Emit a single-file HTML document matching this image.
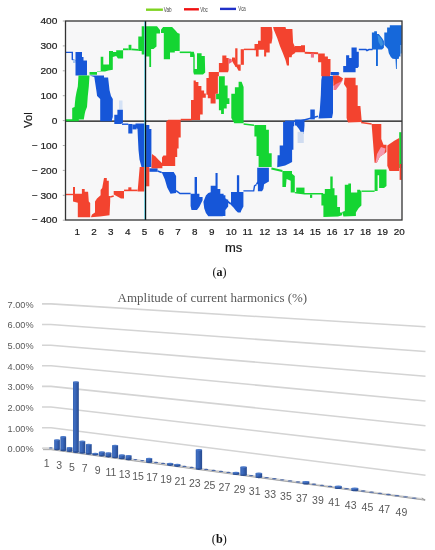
<!DOCTYPE html>
<html><head><meta charset="utf-8"><title>Figure</title>
<style>
html,body{margin:0;padding:0;background:#fff;}
body{width:435px;height:550px;overflow:hidden;}
svg{display:block;font-family:"Liberation Sans",Arial,sans-serif;}
</style></head><body>
<svg width="435" height="550" viewBox="0 0 435 550">
<rect width="435" height="550" fill="#fff"/>
<rect x="65.5" y="21" width="336.5" height="199" fill="#f7f7f8"/>
<line x1="65.5" y1="121.15" x2="402" y2="121.15" stroke="#0d0d0d" stroke-width="1.25"/>
<polyline points="65.5,52.4 72.3,52.4 72.3,59.3 75.5,61.0" fill="none" stroke="#1656d8" stroke-width="1.4" stroke-linejoin="miter"/>
<rect x="73.0" y="59.5" width="2.5" height="3.5" fill="#a8c8f0"/>
<polygon points="75.5,52.0 82.0,52.0 82.0,57.0 83.5,57.0 83.5,60.5 87.0,60.5 87.0,75.5 75.5,75.5" fill="#1656d8"/>
<polygon points="89.5,75.5 104.0,75.5 104.0,77.6 108.1,77.6 108.5,81.0 109.5,90.0 111.0,96.0 112.8,99.0 112.8,117.1 112.0,119.5 112.0,121.3 100.2,121.3 100.2,99.0 97.1,96.0 96.4,90.7 94.3,77.0" fill="#1656d8"/>
<rect x="119.0" y="100.5" width="3.5" height="9.2" fill="#d4e2f6"/>
<polygon points="117.4,109.7 122.9,109.7 122.9,123.0 121.0,124.1 114.3,124.1 114.3,114.8 117.4,114.8" fill="#1656d8"/>
<polyline points="122.0,124.2 128.3,124.2" fill="none" stroke="#1656d8" stroke-width="1.4" stroke-linejoin="miter"/>
<rect x="128.3" y="124.0" width="4.1" height="9.5" fill="#1656d8"/>
<rect x="132.4" y="124.5" width="4.2" height="4.9" fill="#1656d8"/>
<polygon points="135.5,123.5 144.5,123.5 144.5,167.0 141.5,167.0 139.5,159.4 138.5,150.0 138.0,140.0 137.5,129.0 135.5,127.0" fill="#1656d8"/>
<polygon points="146.1,125.0 149.3,125.0 149.3,129.0 151.4,129.0 151.4,167.0 146.1,167.0" fill="#1656d8"/>
<polygon points="149.3,168.3 157.6,168.3 157.6,171.8 149.3,171.8" fill="#1656d8"/>
<polyline points="157.6,171.0 161.7,172.5" fill="none" stroke="#1656d8" stroke-width="1.4" stroke-linejoin="miter"/>
<polygon points="161.6,172.0 173.7,172.0 176.1,176.1 176.1,193.0 170.5,193.8 167.2,187.4 164.8,179.3" fill="#1656d8"/>
<polyline points="176.1,190.6 180.0,193.5 190.6,193.5" fill="none" stroke="#1656d8" stroke-width="1.4" stroke-linejoin="miter"/>
<polygon points="190.6,193.8 194.6,193.8 194.6,176.9 197.0,176.9 197.0,193.8 199.4,193.8 199.4,197.0 202.6,197.0 202.6,200.2 199.4,206.7 197.0,209.9 191.5,209.9 190.6,206.0" fill="#1656d8"/>
<polygon points="203.4,201.8 205.9,195.4 208.3,193.0 210.7,192.2 210.7,185.7 215.5,185.7 215.5,172.9 217.6,172.9 217.6,189.0 220.3,189.0 220.3,193.8 223.6,193.8 223.6,198.6 226.0,198.6 227.6,201.0 226.8,206.7 223.6,211.5 222.8,216.3 208.3,216.3 205.9,213.1 204.2,208.3" fill="#1656d8"/>
<polygon points="222.0,195.3 225.4,195.3 225.4,199.5 228.2,199.5 228.2,206.4 225.4,210.0 225.4,216.0 222.0,216.0" fill="#1656d8"/>
<polyline points="227.6,201.5 231.0,204.0" fill="none" stroke="#1656d8" stroke-width="1.6" stroke-linejoin="miter"/>
<polygon points="231.0,191.9 236.9,191.9 236.9,175.3 239.2,175.3 239.2,191.9 243.4,191.9 243.4,206.4 241.3,210.5 240.6,212.6 237.9,212.6 235.8,210.5 233.7,207.8 231.0,205.0" fill="#1656d8"/>
<polyline points="243.4,190.9 253.7,190.9 254.5,186.0 256.5,184.5" fill="none" stroke="#1656d8" stroke-width="1.4" stroke-linejoin="miter"/>
<polygon points="257.2,167.8 268.9,167.8 268.9,181.6 264.1,184.3 263.4,189.0 262.0,191.2 257.9,191.2 257.9,184.3 255.8,184.3 257.2,181.6" fill="#1656d8"/>
<polygon points="283.1,122.1 294.1,122.1 294.1,126.3 293.4,126.3 293.4,149.7 292.1,149.7 292.1,162.1 289.3,163.5 285.2,165.6 277.2,167.2 277.6,155.2 279.7,155.2 279.7,145.6 283.1,145.6" fill="#1656d8"/>
<polyline points="285.0,121.3 297.0,121.3" fill="none" stroke="#1656d8" stroke-width="1.4" stroke-linejoin="miter"/>
<polygon points="294.8,119.4 304.5,119.4 304.5,125.6 303.8,133.9 301.7,133.9 299.0,129.0 296.2,125.6 294.8,125.6" fill="#1656d8"/>
<rect x="297.6" y="131.8" width="6.2" height="11.2" fill="#d0dcf0"/>
<polyline points="295.0,122.2 306.0,119.5 318.0,116.3" fill="none" stroke="#1656d8" stroke-width="1.5" stroke-linejoin="miter"/>
<rect x="310.3" y="109.5" width="4.5" height="9.9" fill="#1656d8"/>
<polygon points="322.0,76.0 333.0,76.0 333.0,113.0 332.0,118.0 318.5,118.5 319.8,110.0 320.8,95.0 321.3,80.0" fill="#1656d8"/>
<rect x="330.5" y="72.0" width="8.3" height="3.2" fill="#1656d8"/>
<polyline points="338.5,73.6 339.2,73.6" fill="none" stroke="#1656d8" stroke-width="1.5" stroke-linejoin="miter"/>
<polygon points="343.2,66.0 346.1,66.0 346.1,55.3 349.2,55.3 349.2,58.0 351.5,58.0 351.5,47.6 356.7,47.6 356.7,51.7 358.8,51.7 358.8,66.5 357.7,68.0 355.6,68.0 355.6,72.2 343.2,72.2" fill="#1656d8"/>
<polyline points="358.8,49.6 366.0,49.6 367.0,50.5 369.0,49.6 372.6,49.6" fill="none" stroke="#1656d8" stroke-width="1.5" stroke-linejoin="miter"/>
<polygon points="371.9,32.6 374.2,32.6 374.2,31.2 376.9,31.2 377.0,34.0 378.8,34.0 382.0,38.0 383.9,41.0 383.9,47.7 382.0,49.6 377.9,49.6 377.9,66.1 376.0,66.1 376.0,49.6 371.9,49.6" fill="#1668da"/>
<polygon points="377.5,35.0 379.5,36.5 382.2,40.0 383.2,44.5 381.0,46.5 378.5,42.0" fill="#3c92e0"/>
<polygon points="384.3,32.6 387.1,32.6 387.1,27.5 389.8,27.5 389.8,25.2 401.8,25.2 401.8,53.3 400.4,53.3 400.4,56.5 399.0,56.5 398.9,58.8 397.0,59.0 396.8,68.9 396.0,68.9 395.5,59.0 392.6,58.8 390.8,56.9 388.8,53.3 388.0,49.0 384.3,45.0" fill="#1668da"/>
<rect x="400.2" y="45.0" width="1.4" height="8.5" fill="#7ab0ec"/>
<polygon points="78.5,75.5 89.5,75.5 88.8,86.6 87.8,96.0 87.0,107.0 85.4,111.0 84.7,114.0 83.9,118.7 83.9,119.5 78.8,119.5 78.8,121.3 65.5,121.3 65.5,119.3 72.2,119.3 72.2,108.0 74.6,107.0 74.9,103.0 75.5,97.6 76.5,92.0 77.8,86.6" fill="#14d532"/>
<polygon points="100.7,56.7 103.3,56.7 103.3,64.4 109.0,64.4 109.0,51.0 113.0,51.0 113.0,52.0 116.2,52.0 116.2,50.3 123.1,50.3 123.1,58.6 118.0,58.6 116.2,56.0 112.8,57.0 112.8,69.7 108.4,70.5 105.0,71.4 97.0,71.5 97.0,74.8 89.5,74.8 89.5,72.0 100.7,72.0" fill="#14d532"/>
<polyline points="123.0,49.3 128.6,49.3" fill="none" stroke="#14d532" stroke-width="1.8" stroke-linejoin="miter"/>
<rect x="128.6" y="44.8" width="2.8" height="5.4" fill="#14d532"/>
<polyline points="131.4,49.3 138.3,49.8" fill="none" stroke="#14d532" stroke-width="1.8" stroke-linejoin="miter"/>
<polygon points="138.3,36.6 141.7,36.6 141.7,26.2 144.5,26.2 144.5,54.5 141.7,54.5 141.7,51.0 138.3,51.0" fill="#14d532"/>
<polygon points="146.1,26.2 157.0,26.2 160.0,30.0 160.0,33.5 156.5,33.5 156.5,46.5 153.5,49.0 151.1,49.0 151.1,66.9 149.3,66.9 149.3,56.6 146.1,56.6" fill="#14d532"/>
<polygon points="161.0,29.7 163.1,26.9 172.1,26.9 175.0,30.0 177.6,33.1 179.7,33.8 179.7,51.0 174.8,51.0 174.8,52.4 170.0,52.4 170.0,59.3 163.8,59.3 163.8,33.0 161.0,33.0" fill="#14d532"/>
<polyline points="179.7,52.3 190.7,52.3" fill="none" stroke="#14d532" stroke-width="1.6" stroke-linejoin="miter"/>
<polygon points="190.1,51.8 193.8,51.8 194.7,55.0 194.7,69.0 197.0,69.0 197.0,53.3 201.6,53.3 201.6,56.0 204.8,56.0 205.2,72.6 203.0,74.4 194.0,74.4 193.3,72.0 193.3,57.0 190.1,57.0" fill="#14d532"/>
<polygon points="218.9,76.3 224.8,76.3 224.8,85.5 227.6,85.5 227.6,98.3 229.4,98.3 229.4,103.9 226.7,103.9 226.7,108.5 223.9,108.5 223.9,114.0 221.1,114.0 221.1,110.3 218.9,110.3 218.9,99.3 216.1,99.3 216.1,93.7 218.9,93.7" fill="#14d532"/>
<polygon points="231.3,93.7 234.9,93.7 234.9,87.3 238.6,87.3 238.6,81.8 241.6,81.8 243.6,87.0 243.6,123.2 234.3,123.2 231.3,118.0" fill="#14d532"/>
<polyline points="243.6,124.0 254.0,125.2" fill="none" stroke="#14d532" stroke-width="1.5" stroke-linejoin="miter"/>
<polygon points="254.4,124.9 266.1,124.9 266.1,129.7 268.9,129.7 268.9,153.2 271.7,153.2 271.7,167.0 258.6,167.0 258.6,155.9 256.5,155.9 256.5,136.6 254.4,136.6" fill="#14d532"/>
<polyline points="271.4,168.5 282.4,171.0" fill="none" stroke="#14d532" stroke-width="1.8" stroke-linejoin="miter"/>
<polygon points="282.4,171.0 292.0,171.0 292.0,173.8 294.8,176.0 294.8,192.4 290.7,192.4 290.7,180.7 286.6,179.0 285.9,186.9 282.4,186.9" fill="#14d532"/>
<rect x="296.2" y="187.6" width="8.3" height="5.5" fill="#14d532"/>
<polyline points="294.8,192.6 304.5,193.8 323.1,193.8" fill="none" stroke="#14d532" stroke-width="1.4" stroke-linejoin="miter"/>
<rect x="310.0" y="194.5" width="2.2" height="3.4" fill="#14d532"/>
<polygon points="321.4,193.8 324.8,193.8 324.8,189.0 330.3,189.0 330.3,176.6 332.7,176.6 332.7,188.3 334.5,188.3 334.5,195.2 337.2,195.2 337.2,206.9 340.0,206.9 340.0,212.4 342.1,212.4 342.1,215.2 338.0,216.6 323.4,216.9 323.4,205.5 321.4,205.5" fill="#14d532"/>
<polygon points="344.8,184.8 348.3,184.8 348.3,183.4 351.0,183.4 351.0,192.4 357.2,192.4 357.2,189.7 360.0,189.7 361.4,192.0 361.4,205.5 358.6,208.3 355.9,212.4 355.9,215.9 343.5,216.6 342.1,212.0 344.8,211.0" fill="#14d532"/>
<polyline points="361.4,191.2 374.6,191.2" fill="none" stroke="#14d532" stroke-width="1.4" stroke-linejoin="miter"/>
<polygon points="374.6,169.4 386.5,169.4 386.5,186.0 384.0,188.0 379.1,188.0 379.1,175.3 377.6,175.3 377.6,191.0 374.6,191.0" fill="#14d532"/>
<rect x="399.2" y="132.2" width="2.2" height="35.8" fill="#14d532"/>
<polyline points="66.0,194.5 73.0,194.5" fill="none" stroke="#f3432f" stroke-width="1.4" stroke-linejoin="miter"/>
<polygon points="73.0,193.8 73.0,186.9 75.0,186.9 75.0,193.8 81.9,193.8 81.9,189.0 84.7,189.0 84.7,191.7 88.1,191.7 88.8,201.4 90.2,203.0 90.2,217.2 77.8,217.2 77.8,202.8 73.0,201.4" fill="#f3432f"/>
<polygon points="90.9,217.2 92.0,214.5 95.0,212.5 95.0,201.4 97.0,198.6 100.6,195.2 100.6,190.0 102.2,188.0 104.0,177.9 106.8,177.9 106.8,180.7 108.8,180.7 108.8,195.9 110.2,195.9 110.2,201.4 109.5,215.2 100.0,216.5" fill="#f3432f"/>
<polyline points="110.2,197.0 113.7,196.0" fill="none" stroke="#f3432f" stroke-width="1.6" stroke-linejoin="miter"/>
<polygon points="113.7,191.0 124.0,191.0 124.0,198.6 121.0,198.6 113.7,194.5" fill="#f3432f"/>
<polyline points="124.0,190.4 137.6,190.4" fill="none" stroke="#f3432f" stroke-width="1.6" stroke-linejoin="miter"/>
<rect x="128.3" y="187.3" width="3.1" height="3.1" fill="#f3432f"/>
<polygon points="139.7,167.0 144.5,167.0 144.5,191.5 137.6,191.5 138.6,180.0" fill="#f3432f"/>
<polygon points="146.1,167.0 149.3,167.0 149.3,186.3 146.1,186.3" fill="#f3432f"/>
<polygon points="152.0,153.9 155.5,156.6 158.3,159.4 162.4,163.5 162.4,168.3 151.4,168.3" fill="#f3432f"/>
<polygon points="168.3,119.7 180.7,119.7 180.7,137.6 178.6,137.6 178.6,148.6 177.2,148.6 177.2,156.9 175.2,156.9 175.2,165.9 162.0,165.9 162.0,157.6 163.4,155.5 166.2,155.5 166.2,121.7" fill="#f3432f"/>
<polyline points="180.7,119.6 191.7,119.6" fill="none" stroke="#f3432f" stroke-width="1.6" stroke-linejoin="miter"/>
<polygon points="193.6,80.4 195.8,80.4 195.8,82.1 198.4,82.1 198.4,86.0 201.4,86.0 201.4,90.4 204.1,90.4 204.1,93.4 205.8,93.4 205.8,97.8 202.7,97.8 202.7,114.4 200.1,114.4 200.1,120.0 191.0,120.0 191.0,100.0 193.6,100.0" fill="#f3432f"/>
<polygon points="208.7,72.1 218.9,72.1 218.9,76.3 217.9,76.3 217.9,93.7 215.6,93.7 215.6,103.4 210.6,103.4 210.6,98.3 207.8,98.3 207.8,94.7 206.4,94.7 206.4,78.1 208.7,78.1" fill="#f3432f"/>
<polygon points="218.9,63.0 222.3,63.0 222.3,55.6 226.4,55.6 226.4,57.9 228.7,57.9 228.7,70.0 228.0,72.2 218.9,72.2" fill="#f3432f"/>
<polygon points="228.7,58.5 231.5,59.0 232.0,62.0 228.7,64.0" fill="#f26078"/>
<polygon points="232.0,57.5 234.7,57.5 237.0,63.0 237.0,66.7 235.5,66.7 232.0,61.0" fill="#f3432f"/>
<rect x="235.2" y="48.3" width="2.3" height="18.4" fill="#f3432f"/>
<polygon points="236.5,64.5 240.7,64.5 240.7,70.8 238.5,70.8 236.5,67.0" fill="#f3432f"/>
<rect x="240.7" y="49.2" width="3.2" height="15.6" fill="#f3432f"/>
<polyline points="243.9,49.4 255.0,49.4" fill="none" stroke="#f3432f" stroke-width="1.5" stroke-linejoin="miter"/>
<polygon points="254.5,44.1 258.0,44.1 258.0,40.7 260.7,40.7 260.7,26.9 271.7,26.9 272.4,32.0 272.4,38.0 271.5,43.4 269.7,43.4 269.7,52.4 266.2,52.4 266.2,56.6 264.1,56.6 264.1,49.7 258.6,49.7 258.6,56.6 255.9,56.6 255.9,50.3 254.5,50.3" fill="#f3432f"/>
<polygon points="273.1,26.9 285.5,26.9 286.0,29.0 292.4,29.0 293.1,42.8 295.2,47.6 295.2,53.0 292.0,55.0 291.7,57.2 289.0,57.2 289.0,65.5 286.9,65.5 285.5,60.0 282.8,53.1 280.0,46.2 277.2,37.9 273.8,29.7" fill="#f3432f"/>
<polygon points="295.0,46.1 301.0,46.1 301.0,45.3 305.0,45.3 305.0,52.2 295.0,52.2" fill="#f3432f"/>
<polyline points="304.7,52.8 318.1,53.2" fill="none" stroke="#f3432f" stroke-width="2.1" stroke-linejoin="miter"/>
<rect x="310.9" y="53.5" width="3.1" height="4.1" fill="#f0708a"/>
<polygon points="318.1,53.4 324.8,53.4 324.8,56.6 327.9,56.6 327.9,59.1 330.5,59.1 330.5,71.0 330.0,76.2 321.2,76.2 321.2,62.2 318.1,62.2" fill="#f3432f"/>
<polygon points="333.5,84.0 337.0,82.0 341.0,80.0 343.2,79.5 340.4,84.0 336.0,90.1 333.5,90.1" fill="#f3788f"/>
<polygon points="332.8,75.5 338.3,75.5 343.2,78.5 341.0,81.5 336.0,84.0 333.5,86.0" fill="#f3432f"/>
<polygon points="344.6,77.7 355.6,77.7 355.6,85.3 357.7,85.3 357.7,106.0 360.4,106.0 361.8,122.0 348.0,122.6 346.6,118.0 346.6,88.0 343.9,84.0" fill="#f3432f"/>
<polyline points="361.2,122.6 371.6,124.0" fill="none" stroke="#f3432f" stroke-width="1.5" stroke-linejoin="miter"/>
<polygon points="371.6,124.0 381.3,124.0 381.3,138.9 383.5,144.8 386.5,144.8 386.5,152.0 384.3,153.8 379.8,156.8 376.8,162.7 374.6,162.7 373.1,143.3" fill="#f3432f"/>
<polygon points="381.0,147.0 385.5,148.5 384.3,153.8 379.8,156.8 376.8,162.7 375.5,162.7 377.0,154.0" fill="#f59ab0"/>
<polygon points="387.3,145.6 394.7,140.4 399.2,138.1 399.2,170.9 389.5,170.9 387.3,165.7" fill="#f3432f"/>
<rect x="399.6" y="164.0" width="2.0" height="15.9" fill="#f3432f"/>
<line x1="144.6" y1="21" x2="144.6" y2="220" stroke="#3fd8f0" stroke-width="0.8" opacity="0.8"/>
<line x1="145.55" y1="21" x2="145.55" y2="220" stroke="#061418" stroke-width="1.3"/>
<rect x="65.5" y="21" width="336.5" height="199" fill="none" stroke="#333" stroke-width="1.3"/>
<line x1="62.8" y1="21.0" x2="65" y2="21.0" stroke="#aaa" stroke-width="1"/>
<text transform="translate(57.4,24.00) scale(1.07,1)" text-anchor="end" font-size="9.5" fill="#1a1a1a" stroke="#1a1a1a" stroke-width="0.2">400</text>
<line x1="62.8" y1="45.9" x2="65" y2="45.9" stroke="#aaa" stroke-width="1"/>
<text transform="translate(57.4,48.93) scale(1.07,1)" text-anchor="end" font-size="9.5" fill="#1a1a1a" stroke="#1a1a1a" stroke-width="0.2">300</text>
<line x1="62.8" y1="70.8" x2="65" y2="70.8" stroke="#aaa" stroke-width="1"/>
<text transform="translate(57.4,73.86) scale(1.07,1)" text-anchor="end" font-size="9.5" fill="#1a1a1a" stroke="#1a1a1a" stroke-width="0.2">200</text>
<line x1="62.8" y1="95.7" x2="65" y2="95.7" stroke="#aaa" stroke-width="1"/>
<text transform="translate(57.4,98.79) scale(1.07,1)" text-anchor="end" font-size="9.5" fill="#1a1a1a" stroke="#1a1a1a" stroke-width="0.2">100</text>
<line x1="62.8" y1="120.6" x2="65" y2="120.6" stroke="#aaa" stroke-width="1"/>
<text transform="translate(57.4,123.72) scale(1.07,1)" text-anchor="end" font-size="9.5" fill="#1a1a1a" stroke="#1a1a1a" stroke-width="0.2">0</text>
<line x1="62.8" y1="145.5" x2="65" y2="145.5" stroke="#aaa" stroke-width="1"/>
<text transform="translate(57.4,148.65) scale(1.07,1)" text-anchor="end" font-size="9.5" fill="#1a1a1a" stroke="#1a1a1a" stroke-width="0.2">− 100</text>
<line x1="62.8" y1="170.4" x2="65" y2="170.4" stroke="#aaa" stroke-width="1"/>
<text transform="translate(57.4,173.58) scale(1.07,1)" text-anchor="end" font-size="9.5" fill="#1a1a1a" stroke="#1a1a1a" stroke-width="0.2">− 200</text>
<line x1="62.8" y1="195.3" x2="65" y2="195.3" stroke="#aaa" stroke-width="1"/>
<text transform="translate(57.4,198.51) scale(1.07,1)" text-anchor="end" font-size="9.5" fill="#1a1a1a" stroke="#1a1a1a" stroke-width="0.2">− 300</text>
<line x1="62.8" y1="220.2" x2="65" y2="220.2" stroke="#aaa" stroke-width="1"/>
<text transform="translate(57.4,223.44) scale(1.07,1)" text-anchor="end" font-size="9.5" fill="#1a1a1a" stroke="#1a1a1a" stroke-width="0.2">− 400</text>
<text x="74.50" y="234.8" font-size="9.9" fill="#1a1a1a" stroke="#1a1a1a" stroke-width="0.2">1</text>
<text x="91.30" y="234.8" font-size="9.9" fill="#1a1a1a" stroke="#1a1a1a" stroke-width="0.2">2</text>
<text x="108.10" y="234.8" font-size="9.9" fill="#1a1a1a" stroke="#1a1a1a" stroke-width="0.2">3</text>
<text x="124.90" y="234.8" font-size="9.9" fill="#1a1a1a" stroke="#1a1a1a" stroke-width="0.2">4</text>
<text x="141.70" y="234.8" font-size="9.9" fill="#1a1a1a" stroke="#1a1a1a" stroke-width="0.2">5</text>
<text x="158.50" y="234.8" font-size="9.9" fill="#1a1a1a" stroke="#1a1a1a" stroke-width="0.2">6</text>
<text x="175.30" y="234.8" font-size="9.9" fill="#1a1a1a" stroke="#1a1a1a" stroke-width="0.2">7</text>
<text x="192.10" y="234.8" font-size="9.9" fill="#1a1a1a" stroke="#1a1a1a" stroke-width="0.2">8</text>
<text x="208.90" y="234.8" font-size="9.9" fill="#1a1a1a" stroke="#1a1a1a" stroke-width="0.2">9</text>
<text x="225.70" y="234.8" font-size="9.9" fill="#1a1a1a" stroke="#1a1a1a" stroke-width="0.2">10</text>
<text x="242.50" y="234.8" font-size="9.9" fill="#1a1a1a" stroke="#1a1a1a" stroke-width="0.2">11</text>
<text x="259.30" y="234.8" font-size="9.9" fill="#1a1a1a" stroke="#1a1a1a" stroke-width="0.2">12</text>
<text x="276.10" y="234.8" font-size="9.9" fill="#1a1a1a" stroke="#1a1a1a" stroke-width="0.2">13</text>
<text x="292.90" y="234.8" font-size="9.9" fill="#1a1a1a" stroke="#1a1a1a" stroke-width="0.2">14</text>
<text x="309.70" y="234.8" font-size="9.9" fill="#1a1a1a" stroke="#1a1a1a" stroke-width="0.2">15</text>
<text x="326.50" y="234.8" font-size="9.9" fill="#1a1a1a" stroke="#1a1a1a" stroke-width="0.2">16</text>
<text x="343.30" y="234.8" font-size="9.9" fill="#1a1a1a" stroke="#1a1a1a" stroke-width="0.2">17</text>
<text x="360.10" y="234.8" font-size="9.9" fill="#1a1a1a" stroke="#1a1a1a" stroke-width="0.2">18</text>
<text x="376.90" y="234.8" font-size="9.9" fill="#1a1a1a" stroke="#1a1a1a" stroke-width="0.2">19</text>
<text x="393.70" y="234.8" font-size="9.9" fill="#1a1a1a" stroke="#1a1a1a" stroke-width="0.2">20</text>
<text x="233.7" y="251.5" text-anchor="middle" font-size="13" fill="#1a1a1a" stroke="#1a1a1a" stroke-width="0.2">ms</text>
<text transform="translate(32.3,120.1) rotate(-90)" text-anchor="middle" font-size="11.2" fill="#1a1a1a" stroke="#1a1a1a" stroke-width="0.2">Vol</text>
<line x1="146" y1="9.7" x2="162.9" y2="9.7" stroke="#7ed321" stroke-width="2.4"/>
<text x="163.7" y="11.8" font-size="6.6" textLength="7.9" lengthAdjust="spacingAndGlyphs" fill="#444">Vab</text>
<line x1="184" y1="9.3" x2="198.9" y2="9.3" stroke="#f01010" stroke-width="2.4"/>
<text x="200.2" y="11.6" font-size="6.6" textLength="7.6" lengthAdjust="spacingAndGlyphs" fill="#444">Vbc</text>
<line x1="220" y1="8.9" x2="236" y2="8.9" stroke="#2030c8" stroke-width="2.4"/>
<text x="238.2" y="11.3" font-size="6.6" textLength="7.6" lengthAdjust="spacingAndGlyphs" fill="#444">Vca</text>
<text x="219.4" y="276.2" text-anchor="middle" font-family="Liberation Serif" font-size="12" fill="#111"><tspan>(</tspan><tspan font-weight="bold">a</tspan><tspan>)</tspan></text>
<polyline points="42,448.3 51,448.3 425.5,499.9" fill="none" stroke="#d4d4d4" stroke-width="1.6"/>
<text x="33.6" y="452.2" text-anchor="end" font-size="9.6" textLength="26" lengthAdjust="spacingAndGlyphs" fill="#595959">0.00%</text>
<polyline points="42,427.7 51,427.7 425.5,475.2" fill="none" stroke="#d4d4d4" stroke-width="1.6"/>
<text x="33.6" y="431.6" text-anchor="end" font-size="9.6" textLength="26" lengthAdjust="spacingAndGlyphs" fill="#595959">1.00%</text>
<polyline points="42,407.0 51,407.0 425.5,450.4" fill="none" stroke="#d4d4d4" stroke-width="1.6"/>
<text x="33.6" y="410.9" text-anchor="end" font-size="9.6" textLength="26" lengthAdjust="spacingAndGlyphs" fill="#595959">2.00%</text>
<polyline points="42,386.4 51,386.4 425.5,425.7" fill="none" stroke="#d4d4d4" stroke-width="1.6"/>
<text x="33.6" y="390.3" text-anchor="end" font-size="9.6" textLength="26" lengthAdjust="spacingAndGlyphs" fill="#595959">3.00%</text>
<polyline points="42,365.8 51,365.8 425.5,401.0" fill="none" stroke="#d4d4d4" stroke-width="1.6"/>
<text x="33.6" y="369.7" text-anchor="end" font-size="9.6" textLength="26" lengthAdjust="spacingAndGlyphs" fill="#595959">4.00%</text>
<polyline points="42,345.2 51,345.2 425.5,376.2" fill="none" stroke="#d4d4d4" stroke-width="1.6"/>
<text x="33.6" y="349.1" text-anchor="end" font-size="9.6" textLength="26" lengthAdjust="spacingAndGlyphs" fill="#595959">5.00%</text>
<polyline points="42,324.5 51,324.5 425.5,351.5" fill="none" stroke="#d4d4d4" stroke-width="1.6"/>
<text x="33.6" y="328.4" text-anchor="end" font-size="9.6" textLength="26" lengthAdjust="spacingAndGlyphs" fill="#595959">6.00%</text>
<polyline points="42,303.9 51,303.9 425.5,326.8" fill="none" stroke="#d4d4d4" stroke-width="1.6"/>
<text x="33.6" y="307.8" text-anchor="end" font-size="9.6" textLength="26" lengthAdjust="spacingAndGlyphs" fill="#595959">7.00%</text>
<polygon points="43,447.6 51,447.6 421.8,497.9 425,500.3 51,450 43,450" fill="#d8d8d8"/>
<polyline points="43,449.7 51,449.7 425,500.1" fill="none" stroke="#a4a4a4" stroke-width="0.9"/>
<line x1="421.8" y1="497.9" x2="425" y2="500.2" stroke="#8c8c8c" stroke-width="0.9"/>
<defs><linearGradient id="bg" x1="0" x2="1" y1="0" y2="0"><stop offset="0" stop-color="#3563b4"/><stop offset="0.3" stop-color="#3f6dc0"/><stop offset="0.6" stop-color="#335eae"/><stop offset="1" stop-color="#274a8e"/></linearGradient></defs>
<ellipse cx="50.80" cy="447.97" rx="1.85" ry="0.65" fill="#4d6aa8"/>
<rect x="54.14" y="439.80" width="5.73" height="9.73" fill="url(#bg)"/>
<ellipse cx="57.00" cy="449.53" rx="2.87" ry="0.8" fill="#2a4e92"/>
<ellipse cx="57.00" cy="440.00" rx="2.87" ry="0.8" fill="#4a78c8"/>
<rect x="60.37" y="436.70" width="5.76" height="13.69" fill="url(#bg)"/>
<ellipse cx="63.26" cy="450.39" rx="2.88" ry="0.8" fill="#2a4e92"/>
<ellipse cx="63.26" cy="436.90" rx="2.88" ry="0.8" fill="#4a78c8"/>
<rect x="66.66" y="447.60" width="5.79" height="3.66" fill="url(#bg)"/>
<ellipse cx="69.56" cy="451.26" rx="2.90" ry="0.8" fill="#2a4e92"/>
<ellipse cx="69.56" cy="447.80" rx="2.90" ry="0.8" fill="#4a78c8"/>
<rect x="73.00" y="381.80" width="5.82" height="70.33" fill="url(#bg)"/>
<ellipse cx="75.91" cy="452.13" rx="2.91" ry="0.8" fill="#2a4e92"/>
<ellipse cx="75.91" cy="382.00" rx="2.91" ry="0.8" fill="#4a78c8"/>
<rect x="79.39" y="441.10" width="5.85" height="11.91" fill="url(#bg)"/>
<ellipse cx="82.32" cy="453.01" rx="2.93" ry="0.8" fill="#2a4e92"/>
<ellipse cx="82.32" cy="441.30" rx="2.93" ry="0.8" fill="#4a78c8"/>
<rect x="85.83" y="444.30" width="5.88" height="9.60" fill="url(#bg)"/>
<ellipse cx="88.77" cy="453.90" rx="2.94" ry="0.8" fill="#2a4e92"/>
<ellipse cx="88.77" cy="444.50" rx="2.94" ry="0.8" fill="#4a78c8"/>
<rect x="92.32" y="453.30" width="5.91" height="1.50" fill="url(#bg)"/>
<ellipse cx="95.28" cy="454.80" rx="2.96" ry="0.8" fill="#2a4e92"/>
<ellipse cx="95.28" cy="453.50" rx="2.96" ry="0.8" fill="#4a78c8"/>
<rect x="98.86" y="451.90" width="5.94" height="3.80" fill="url(#bg)"/>
<ellipse cx="101.83" cy="455.70" rx="2.97" ry="0.8" fill="#2a4e92"/>
<ellipse cx="101.83" cy="452.10" rx="2.97" ry="0.8" fill="#4a78c8"/>
<rect x="105.45" y="452.80" width="5.98" height="3.81" fill="url(#bg)"/>
<ellipse cx="108.44" cy="456.61" rx="2.99" ry="0.8" fill="#2a4e92"/>
<ellipse cx="108.44" cy="453.00" rx="2.99" ry="0.8" fill="#4a78c8"/>
<rect x="112.09" y="445.30" width="6.01" height="12.23" fill="url(#bg)"/>
<ellipse cx="115.10" cy="457.53" rx="3.00" ry="0.8" fill="#2a4e92"/>
<ellipse cx="115.10" cy="445.50" rx="3.00" ry="0.8" fill="#4a78c8"/>
<rect x="118.79" y="454.90" width="6.04" height="3.56" fill="url(#bg)"/>
<ellipse cx="121.80" cy="458.46" rx="3.02" ry="0.8" fill="#2a4e92"/>
<ellipse cx="121.80" cy="455.10" rx="3.02" ry="0.8" fill="#4a78c8"/>
<rect x="125.53" y="455.60" width="6.07" height="3.79" fill="url(#bg)"/>
<ellipse cx="128.56" cy="459.39" rx="3.03" ry="0.8" fill="#2a4e92"/>
<ellipse cx="128.56" cy="455.80" rx="3.03" ry="0.8" fill="#4a78c8"/>
<ellipse cx="135.37" cy="459.62" rx="2.05" ry="0.65" fill="#4d6aa8"/>
<ellipse cx="142.23" cy="460.57" rx="2.06" ry="0.65" fill="#4d6aa8"/>
<rect x="146.06" y="458.30" width="6.16" height="3.92" fill="url(#bg)"/>
<ellipse cx="149.14" cy="462.22" rx="3.08" ry="0.8" fill="#2a4e92"/>
<ellipse cx="149.14" cy="458.50" rx="3.08" ry="0.8" fill="#4a78c8"/>
<ellipse cx="156.10" cy="462.48" rx="2.09" ry="0.65" fill="#4d6aa8"/>
<ellipse cx="163.11" cy="463.45" rx="2.11" ry="0.65" fill="#4d6aa8"/>
<rect x="167.05" y="463.40" width="6.25" height="1.72" fill="url(#bg)"/>
<ellipse cx="170.17" cy="465.12" rx="3.13" ry="0.8" fill="#2a4e92"/>
<ellipse cx="170.17" cy="463.60" rx="3.13" ry="0.8" fill="#4a78c8"/>
<rect x="174.14" y="464.30" width="6.28" height="1.80" fill="url(#bg)"/>
<ellipse cx="177.28" cy="466.10" rx="3.14" ry="0.8" fill="#2a4e92"/>
<ellipse cx="177.28" cy="464.50" rx="3.14" ry="0.8" fill="#4a78c8"/>
<ellipse cx="184.45" cy="466.39" rx="2.16" ry="0.65" fill="#4d6aa8"/>
<ellipse cx="191.66" cy="467.38" rx="2.17" ry="0.65" fill="#4d6aa8"/>
<rect x="195.74" y="449.70" width="6.37" height="19.38" fill="url(#bg)"/>
<ellipse cx="198.92" cy="469.08" rx="3.19" ry="0.8" fill="#2a4e92"/>
<ellipse cx="198.92" cy="449.90" rx="3.19" ry="0.8" fill="#4a78c8"/>
<ellipse cx="206.24" cy="469.39" rx="2.20" ry="0.65" fill="#4d6aa8"/>
<ellipse cx="213.60" cy="470.40" rx="2.22" ry="0.65" fill="#4d6aa8"/>
<ellipse cx="221.02" cy="471.43" rx="2.23" ry="0.65" fill="#4d6aa8"/>
<ellipse cx="228.48" cy="472.45" rx="2.25" ry="0.65" fill="#4d6aa8"/>
<rect x="232.73" y="472.40" width="6.53" height="1.79" fill="url(#bg)"/>
<ellipse cx="236.00" cy="474.19" rx="3.26" ry="0.8" fill="#2a4e92"/>
<ellipse cx="236.00" cy="472.60" rx="3.26" ry="0.8" fill="#4a78c8"/>
<rect x="240.28" y="466.90" width="6.56" height="8.33" fill="url(#bg)"/>
<ellipse cx="243.56" cy="475.23" rx="3.28" ry="0.8" fill="#2a4e92"/>
<ellipse cx="243.56" cy="467.10" rx="3.28" ry="0.8" fill="#4a78c8"/>
<ellipse cx="251.18" cy="475.58" rx="2.29" ry="0.65" fill="#4d6aa8"/>
<rect x="255.54" y="473.20" width="6.62" height="4.14" fill="url(#bg)"/>
<ellipse cx="258.85" cy="477.34" rx="3.31" ry="0.8" fill="#2a4e92"/>
<ellipse cx="258.85" cy="473.40" rx="3.31" ry="0.8" fill="#4a78c8"/>
<ellipse cx="266.57" cy="477.70" rx="2.32" ry="0.65" fill="#4d6aa8"/>
<ellipse cx="274.33" cy="478.77" rx="2.34" ry="0.65" fill="#4d6aa8"/>
<ellipse cx="282.15" cy="479.85" rx="2.36" ry="0.65" fill="#4d6aa8"/>
<ellipse cx="290.02" cy="480.93" rx="2.37" ry="0.65" fill="#4d6aa8"/>
<ellipse cx="297.94" cy="482.02" rx="2.39" ry="0.65" fill="#4d6aa8"/>
<rect x="302.51" y="481.60" width="6.80" height="2.22" fill="url(#bg)"/>
<ellipse cx="305.91" cy="483.82" rx="3.40" ry="0.8" fill="#2a4e92"/>
<ellipse cx="305.91" cy="481.80" rx="3.40" ry="0.8" fill="#4a78c8"/>
<ellipse cx="313.93" cy="484.23" rx="2.42" ry="0.65" fill="#4d6aa8"/>
<ellipse cx="322.01" cy="485.34" rx="2.43" ry="0.65" fill="#4d6aa8"/>
<ellipse cx="330.13" cy="486.46" rx="2.45" ry="0.65" fill="#4d6aa8"/>
<rect x="334.84" y="486.20" width="6.92" height="2.09" fill="url(#bg)"/>
<ellipse cx="338.30" cy="488.29" rx="3.46" ry="0.8" fill="#2a4e92"/>
<ellipse cx="338.30" cy="486.40" rx="3.46" ry="0.8" fill="#4a78c8"/>
<ellipse cx="346.52" cy="488.72" rx="2.48" ry="0.65" fill="#4d6aa8"/>
<rect x="351.30" y="488.10" width="6.99" height="2.46" fill="url(#bg)"/>
<ellipse cx="354.80" cy="490.56" rx="3.49" ry="0.8" fill="#2a4e92"/>
<ellipse cx="354.80" cy="488.30" rx="3.49" ry="0.8" fill="#4a78c8"/>
<ellipse cx="363.12" cy="491.01" rx="2.51" ry="0.65" fill="#4d6aa8"/>
<ellipse cx="371.50" cy="492.16" rx="2.52" ry="0.65" fill="#4d6aa8"/>
<ellipse cx="379.92" cy="493.32" rx="2.54" ry="0.65" fill="#4d6aa8"/>
<ellipse cx="388.40" cy="494.49" rx="2.55" ry="0.65" fill="#4d6aa8"/>
<ellipse cx="396.92" cy="495.66" rx="2.57" ry="0.65" fill="#4d6aa8"/>
<ellipse cx="405.50" cy="496.84" rx="2.58" ry="0.65" fill="#4d6aa8"/>
<ellipse cx="414.13" cy="498.03" rx="2.60" ry="0.65" fill="#4d6aa8"/>
<text x="46.7" y="467.2" text-anchor="middle" font-size="10.5" fill="#595959">1</text>
<text x="59.2" y="468.9" text-anchor="middle" font-size="10.5" fill="#595959">3</text>
<text x="71.8" y="470.6" text-anchor="middle" font-size="10.5" fill="#595959">5</text>
<text x="84.7" y="472.3" text-anchor="middle" font-size="10.5" fill="#595959">7</text>
<text x="97.7" y="474.0" text-anchor="middle" font-size="10.5" fill="#595959">9</text>
<text x="111.0" y="475.8" text-anchor="middle" font-size="10.5" fill="#595959">11</text>
<text x="124.5" y="477.6" text-anchor="middle" font-size="10.5" fill="#595959">13</text>
<text x="138.1" y="479.5" text-anchor="middle" font-size="10.5" fill="#595959">15</text>
<text x="152.0" y="481.4" text-anchor="middle" font-size="10.5" fill="#595959">17</text>
<text x="166.1" y="483.3" text-anchor="middle" font-size="10.5" fill="#595959">19</text>
<text x="180.3" y="485.2" text-anchor="middle" font-size="10.5" fill="#595959">21</text>
<text x="194.8" y="487.2" text-anchor="middle" font-size="10.5" fill="#595959">23</text>
<text x="209.5" y="489.2" text-anchor="middle" font-size="10.5" fill="#595959">25</text>
<text x="224.4" y="491.2" text-anchor="middle" font-size="10.5" fill="#595959">27</text>
<text x="239.5" y="493.3" text-anchor="middle" font-size="10.5" fill="#595959">29</text>
<text x="254.7" y="495.4" text-anchor="middle" font-size="10.5" fill="#595959">31</text>
<text x="270.2" y="497.5" text-anchor="middle" font-size="10.5" fill="#595959">33</text>
<text x="285.9" y="499.7" text-anchor="middle" font-size="10.5" fill="#595959">35</text>
<text x="301.8" y="501.9" text-anchor="middle" font-size="10.5" fill="#595959">37</text>
<text x="317.9" y="504.1" text-anchor="middle" font-size="10.5" fill="#595959">39</text>
<text x="334.2" y="506.4" text-anchor="middle" font-size="10.5" fill="#595959">41</text>
<text x="350.7" y="508.7" text-anchor="middle" font-size="10.5" fill="#595959">43</text>
<text x="367.4" y="511.0" text-anchor="middle" font-size="10.5" fill="#595959">45</text>
<text x="384.3" y="513.3" text-anchor="middle" font-size="10.5" fill="#595959">47</text>
<text x="401.4" y="515.7" text-anchor="middle" font-size="10.5" fill="#595959">49</text>
<text x="117.6" y="302.2" textLength="189.6" lengthAdjust="spacingAndGlyphs" font-family="Liberation Serif" font-size="13.5" fill="#595959">Amplitude of current harmonics (%)</text>
<text x="219.3" y="543.3" text-anchor="middle" font-family="Liberation Serif" font-size="12.2" fill="#111"><tspan>(</tspan><tspan font-weight="bold">b</tspan><tspan>)</tspan></text>
</svg>
</body></html>
